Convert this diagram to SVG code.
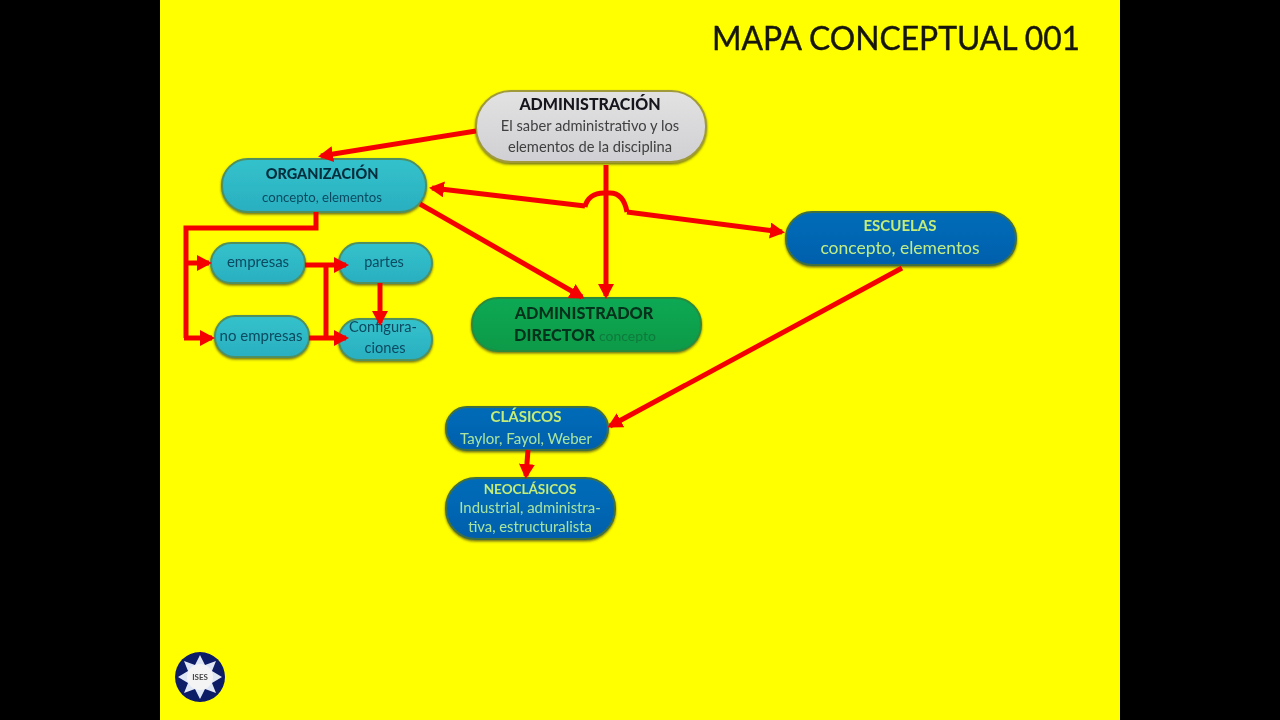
<svg xmlns="http://www.w3.org/2000/svg" width="1280" height="720" viewBox="0 0 1280 720">
<style>
text{font-family:"Lato","Open Sans","Liberation Sans",sans-serif;text-anchor:middle}
.n{stroke-width:2;filter:url(#sh)}
.cy{fill:url(#cyan);stroke:#4f8f60}
.bl{fill:url(#blue);stroke:#3f7040}
.c{fill:none;stroke:#f50505;stroke-width:5}
.a{marker-end:url(#arrow)}
.d{fill:#0b4a60;font-size:15px}
.db{fill:#062f3e;font-size:14.5px;font-weight:900}
.y{fill:#a8e4a0;font-size:15px}
.yb{fill:#c4ec78;font-size:15px;font-weight:700}
</style>
<defs>
<linearGradient id="gray" x1="0" y1="0" x2="0" y2="1"><stop offset="0" stop-color="#e2e2e2"/><stop offset="1" stop-color="#d0d0d4"/></linearGradient>
<linearGradient id="cyan" x1="0" y1="0" x2="0" y2="1"><stop offset="0" stop-color="#33c2cc"/><stop offset="1" stop-color="#2aafc0"/></linearGradient>
<linearGradient id="blue" x1="0" y1="0" x2="0" y2="1"><stop offset="0" stop-color="#066cb8"/><stop offset="1" stop-color="#0560ad"/></linearGradient>
<linearGradient id="green" x1="0" y1="0" x2="0" y2="1"><stop offset="0" stop-color="#0aa953"/><stop offset="1" stop-color="#079a48"/></linearGradient>
<filter id="sh" x="-10%" y="-15%" width="120%" height="135%"><feDropShadow dx="0" dy="1.5" stdDeviation="1" flood-color="#3a3a20" flood-opacity=".7"/></filter>
<filter id="soft"><feGaussianBlur stdDeviation="0.45"/></filter>
<marker id="arrow" markerUnits="userSpaceOnUse" markerWidth="20" markerHeight="18" refX="12" refY="8" orient="auto"><path d="M0 0L15 8L0 16Z" fill="#f50505"/></marker>
</defs>
<rect width="1280" height="720" fill="#000"/>
<rect x="160" width="960" height="720" fill="#ffff00"/>
<g filter="url(#soft)">
<text x="896" y="50" style="font-size:33px;fill:#15150a;stroke:#15150a;stroke-width:.4" textLength="368" lengthAdjust="spacingAndGlyphs">MAPA CONCEPTUAL 001</text>
<g id="n-admin"><rect class="n" x="476" y="91" width="230" height="71" rx="35" fill="url(#gray)" stroke="#a09a3a"/>
<text x="590" y="110" style="font-size:16px;font-weight:900;fill:#14141e">ADMINISTRACIÓN</text>
<text x="590" y="131" style="font-size:14.7px;fill:#404040">El saber administrativo y los</text>
<text x="590" y="152" style="font-size:14.7px;fill:#404040">elementos de la disciplina</text></g>
<g id="n-org"><rect class="n cy" x="222" y="159" width="204" height="53" rx="26"/>
<text class="db" x="322" y="179">ORGANIZACIÓN</text>
<text class="d" x="322" y="202" style="font-size:13.2px">concepto, elementos</text></g>
<g id="n-empresas"><rect class="n cy" x="211" y="243" width="94" height="40" rx="20"/><text class="d" x="258" y="267">empresas</text></g>
<g id="n-partes"><rect class="n cy" x="339" y="243" width="93" height="40" rx="20"/><text class="d" x="384" y="267" style="font-size:14.5px">partes</text></g>
<g id="n-noempresas"><rect class="n cy" x="215" y="316" width="94" height="41" rx="20"/><text class="d" x="261" y="341">no empresas</text></g>
<g id="n-config"><rect class="n cy" x="339" y="319" width="93" height="41" rx="20"/><text class="d" x="383" y="332" style="font-size:14.6px">Configura-</text><text class="d" x="385" y="353" style="font-size:14.6px">ciones</text></g>
<g id="n-administrador"><rect class="n" x="472" y="298" width="229" height="53" rx="26" fill="url(#green)" stroke="#2f8a3a"/>
<text x="584" y="319" style="font-size:16.3px;font-weight:900;fill:#06301c">ADMINISTRADOR</text>
<text x="585" y="341" style="font-size:16.3px;font-weight:900;fill:#06301c">DIRECTOR <tspan style="font-size:14px;font-weight:400;fill:#0a7a3c">concepto</tspan></text></g>
<g id="n-escuelas"><rect class="n bl" x="786" y="212" width="230" height="53" rx="26"/>
<text class="yb" x="900" y="231">ESCUELAS</text><text class="y" x="900" y="254" style="font-size:17.5px;fill:#c0ec88">concepto, elementos</text></g>
<g id="n-clasicos"><rect class="n bl" x="446" y="407" width="162" height="43" rx="21"/>
<text class="yb" x="526" y="422">CLÁSICOS</text><text class="y" x="526" y="444">Taylor, Fayol, Weber</text></g>
<g id="n-neo"><rect class="n bl" x="446" y="478" width="169" height="61" rx="30"/>
<text class="yb" x="530" y="494" style="font-size:13.5px">NEOCLÁSICOS</text><text class="y" x="530" y="513" style="font-size:14.9px">Industrial, administra-</text><text class="y" x="530" y="532" style="font-size:14.8px">tiva, estructuralista</text></g>
<g id="connectors">
<path class="c a" d="M476 131L321 156"/>
<path class="c" d="M316 212V228H186V338"/>
<path class="c a" d="M184 338H212"/>
<path class="c a" d="M186 263H209"/>
<path class="c a" d="M305 265H346"/>
<path class="c" d="M326 265V338"/>
<path class="c a" d="M309 338H346"/>
<path class="c a" d="M380 283V323"/>
<path class="c a" d="M606 165V296"/>
<path class="c a" d="M585 206L432 188"/>
<path class="c" d="M585 207C587 198 594 193 604 193H610C620 193 625 201 627 212"/>
<path class="c a" d="M627 212L782 232"/>
<path class="c a" d="M420 204L582 297"/>
<path class="c a" d="M902 268L610 426"/>
<path class="c a" d="M528 450L526 476"/>
</g>
<g id="logo"><circle cx="200" cy="677" r="25" fill="#0c1a66"/>
<path d="M200 655L205 665L216 661L212 671L222 677L212 683L216 693L205 689L200 699L195 689L184 693L188 683L178 677L188 671L184 661L195 665Z" fill="#dfe6f4"/>
<circle cx="200" cy="677" r="13" fill="#f4f4f4"/>
<text x="200" y="680" style="font-size:8px;font-weight:700;fill:#444">ISES</text></g>
</g>
</svg>
